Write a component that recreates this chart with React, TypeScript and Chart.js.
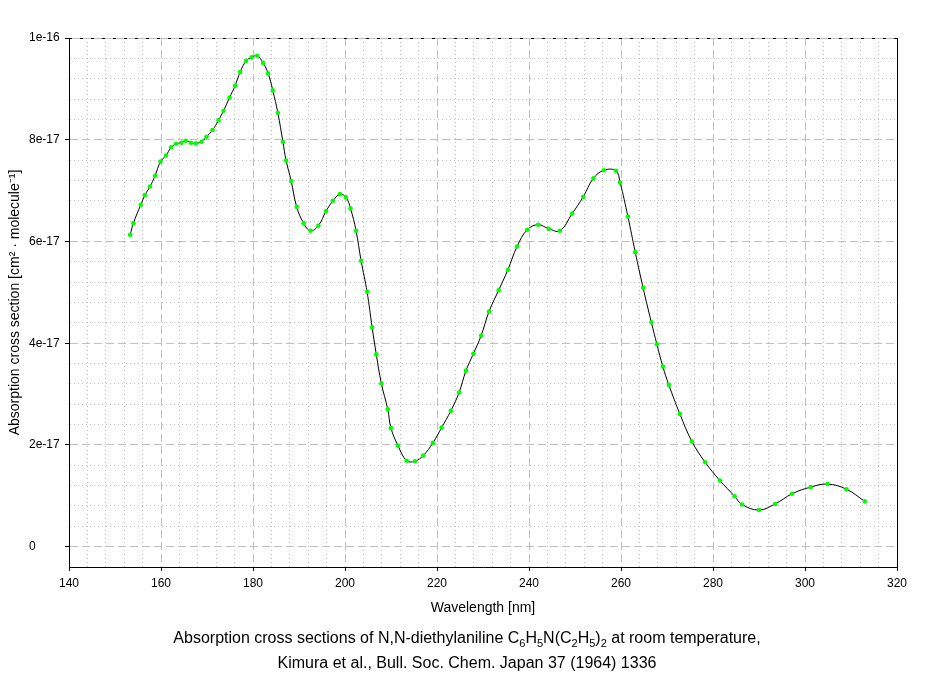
import React, { useEffect, useRef } from 'react';
import { Chart, registerables } from 'chart.js';

Chart.register(...registerables);

// wavelength [nm]
const wavelengths = [
  153.3, 154.0, 155.6, 156.5, 157.6, 158.7, 159.9, 161.1, 162.2, 163.3,
  164.4, 165.4, 166.5, 167.6, 168.8, 169.9, 171.2, 172.5, 173.6, 174.9,
  176.1, 177.2, 178.5, 179.7, 180.9, 182.2, 183.3, 184.3, 185.4, 186.5,
  187.2, 188.3, 189.5, 191.0, 192.5, 194.2, 195.9, 197.4, 198.9, 200.2,
  201.2, 202.4, 203.5, 204.8, 205.9, 206.8, 207.9, 209.3, 210.0, 211.5,
  213.4, 215.2, 217.0, 219.1, 221.0, 223.0, 224.8, 226.3, 227.9, 229.6,
  231.3, 233.4, 235.4, 237.4, 239.6, 242.0, 244.3, 246.7, 249.4, 251.8,
  254.0, 256.3, 258.9, 259.8, 261.5, 263.1, 264.8, 266.6, 267.8, 269.1,
  270.4, 272.8, 275.4, 278.3, 281.5, 284.7, 286.3, 290.0, 293.5, 297.2,
  301.2, 304.9, 309.0, 313.0,
];

// absorption cross section, in units of 1e-17 cm^2 molecule^-1
const crossSections = [
  6.13, 6.36, 6.72, 6.91, 7.08, 7.29, 7.57, 7.69, 7.85, 7.92,
  7.94, 7.98, 7.94, 7.93, 7.96, 8.06, 8.19, 8.38, 8.57, 8.83,
  9.06, 9.33, 9.55, 9.62, 9.65, 9.51, 9.30, 8.97, 8.53, 7.96,
  7.59, 7.19, 6.68, 6.36, 6.21, 6.31, 6.60, 6.80, 6.93, 6.87,
  6.65, 6.21, 5.62, 5.01, 4.31, 3.78, 3.21, 2.70, 2.33, 1.99,
  1.69, 1.68, 1.79, 2.04, 2.34, 2.67, 3.03, 3.46, 3.79, 4.15,
  4.62, 5.04, 5.44, 5.90, 6.23, 6.33, 6.25, 6.21, 6.55, 6.88,
  7.24, 7.40, 7.39, 7.16, 6.49, 5.79, 5.09, 4.41, 3.98, 3.54,
  3.18, 2.61, 2.07, 1.66, 1.30, 0.99, 0.83, 0.72, 0.84, 1.04,
  1.17, 1.23, 1.13, 0.89,
];

const xMajorTicks = [140, 160, 180, 200, 220, 240, 260, 280, 300, 320];
const yMajorTicks = [0, 2, 4, 6, 8, 10];
const yTickLabels = ['0', '2e-17', '4e-17', '6e-17', '8e-17', '1e-16'];

const GRID = '#c0c0c0';
const FONT = '"Liberation Sans", Arial, sans-serif';

const isMajor = (list: number[], v: number) => list.some((m) => Math.abs(m - v) < 1e-6);

const topFramePlugin = {
  id: 'topFrame',
  beforeDatasetsDraw(chart: any) {
    const { ctx, chartArea } = chart;
    ctx.save();
    ctx.strokeStyle = '#000';
    ctx.lineWidth = 1;
    ctx.setLineDash([3, 8]);
    ctx.beginPath();
    ctx.moveTo(chartArea.left, Math.round(chartArea.top) + 0.5);
    ctx.lineTo(chartArea.right, Math.round(chartArea.top) + 0.5);
    ctx.stroke();
    ctx.restore();
  },
};

const AbsorptionChart: React.FC = () => {
  const canvasRef = useRef<HTMLCanvasElement | null>(null);
  const chartRef = useRef<Chart | null>(null);

  useEffect(() => {
    if (!canvasRef.current) return;
    if (chartRef.current) chartRef.current.destroy();

    chartRef.current = new Chart(canvasRef.current, {
      type: 'line',
      data: {
        datasets: [
          {
            data: wavelengths.map((x, i) => ({ x, y: crossSections[i] })),
            borderColor: '#000',
            borderWidth: 1,
            tension: 0.4,
            pointRadius: 2.3,
            pointBorderWidth: 0,
            pointBackgroundColor: '#00ff00',
            pointHoverRadius: 3,
          },
        ],
      },
      options: {
        animation: false,
        responsive: true,
        maintainAspectRatio: false,
        // left padding puts the start of the y tick labels at x≈29
        layout: { padding: { left: 29, right: 37, top: 38, bottom: 53 } },
        plugins: {
          legend: { display: false },
          tooltip: { enabled: false },
        },
        scales: {
          x: {
            type: 'linear',
            min: 140,
            max: 320,
            afterFit: (scale: any) => {
              scale.height = 53;
            },
            ticks: {
              stepSize: 4,
              autoSkip: false,
              maxRotation: 0,
              padding: 5,
              color: '#000',
              font: { family: FONT, size: 12 },
              callback: (v: any) => (isMajor(xMajorTicks, Number(v)) ? String(Math.round(Number(v))) : ''),
            },
            grid: {
              tickLength: 4,
              lineWidth: 1,
              color: (ctx: any) => {
                const v = ctx.tick?.value;
                if (v === 140) return 'rgba(0,0,0,0)';
                if (v === 320) return '#000';
                return GRID;
              },
              tickColor: (ctx: any) =>
                isMajor(xMajorTicks, ctx.tick?.value) ? '#000' : 'rgba(0,0,0,0)',
            },
            border: {
              color: '#000',
              width: 1,
              dash: (ctx: any) => {
                const v = ctx.tick?.value;
                if (v === undefined || v === 320) return [];
                return isMajor(xMajorTicks, v) ? [8, 4] : [1, 3];
              },
            },
            title: {
              display: true,
              text: 'Wavelength [nm]',
              color: '#000',
              font: { family: FONT, size: 14 },
              padding: { top: 0, bottom: 3 },
            },
          },
          y: {
            type: 'linear',
            min: -0.4,
            max: 10,
            afterFit: (scale: any) => {
              scale.width = 40;
            },
            ticks: {
              stepSize: 0.4,
              includeBounds: false,
              autoSkip: false,
              crossAlign: 'far',
              padding: 5,
              color: '#000',
              font: { family: FONT, size: 12 },
              callback: (v: any) => {
                const i = yMajorTicks.findIndex((m) => Math.abs(m - Number(v)) < 1e-6);
                return i >= 0 ? yTickLabels[i] : '';
              },
            },
            grid: {
              tickLength: 4,
              lineWidth: 1,
              color: (ctx: any) => {
                const v = ctx.tick?.value;
                if (v !== undefined && v < 0) return 'rgba(0,0,0,0)';
                return GRID;
              },
              tickColor: (ctx: any) =>
                isMajor(yMajorTicks, ctx.tick?.value) ? '#000' : 'rgba(0,0,0,0)',
            },
            border: {
              color: '#000',
              width: 1,
              dash: (ctx: any) => {
                const v = ctx.tick?.value;
                if (v === undefined || v === 10) return [];
                return isMajor(yMajorTicks, v) ? [8, 4] : [1, 3];
              },
            },
            title: {
              display: true,
              text: 'Absorption cross section [cm² · molecule⁻¹]',
              color: '#000',
              font: { family: FONT, size: 14 },
              // negative padding pulls the title left of the label column
              padding: { top: -22, bottom: 0 },
            },
          },
        },
      },
      plugins: [topFramePlugin],
    });

    return () => {
      if (chartRef.current) {
        chartRef.current.destroy();
        chartRef.current = null;
      }
    };
  }, []);

  const sub = { fontSize: '11px', lineHeight: 0 } as React.CSSProperties;

  return (
    <div style={{ position: 'fixed', left: 0, top: 0, width: 934, height: 673, background: '#fff' }}>
      <canvas ref={canvasRef}></canvas>
      <div
        style={{
          position: 'absolute',
          left: 0,
          top: 625,
          width: 934,
          textAlign: 'center',
          fontFamily: FONT,
          fontSize: '16px',
          lineHeight: '25px',
          color: '#000',
        }}
      >
        <div>
          Absorption cross sections of N,N-diethylaniline C<sub style={sub}>6</sub>H<sub style={sub}>5</sub>N(C
          <sub style={sub}>2</sub>H<sub style={sub}>5</sub>)<sub style={sub}>2</sub> at room temperature,
        </div>
        <div>Kimura et al., Bull. Soc. Chem. Japan 37 (1964) 1336</div>
      </div>
    </div>
  );
};

export default function App() {
  return <AbsorptionChart />;
}
